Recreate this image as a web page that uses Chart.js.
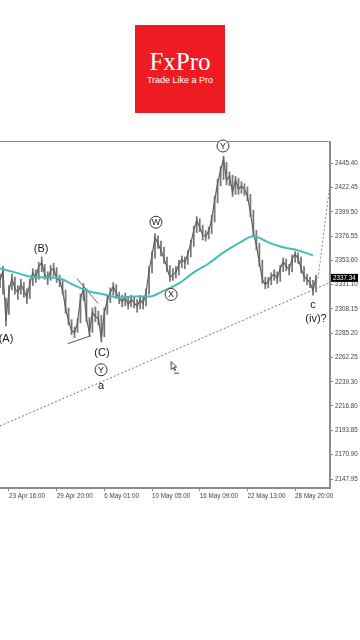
<!DOCTYPE html>
<html>
<head>
<meta charset="utf-8">
<script src="https://cdn.jsdelivr.net/npm/chart.js@4.4.1/dist/chart.umd.min.js"></script>
<style>
  html, body { margin: 0; padding: 0; background: #fff; }
  body { width: 360px; height: 640px; position: relative; overflow: hidden; }
  .logo { position: absolute; left: 135px; top: 25px; width: 90px; height: 88px; background: #ee1b22; color: #fff; text-align: center; }
  .logo .name { position: absolute; left: 0; right: 0; top: 24px; line-height: 26px; font-family: "Liberation Serif", "DejaVu Serif", serif; font-size: 25px; }
  .logo .tag { position: absolute; left: 0; right: 0; top: 50px; line-height: 11px; font-family: "Liberation Sans", Arial, sans-serif; font-size: 9px; }
  #wrap { position: absolute; left: 0; top: 131px; width: 360px; height: 377px; }
</style>
</head>
<body>
<div class="logo"><div class="name">FxPro</div><div class="tag">Trade Like a Pro</div></div>
<div id="wrap"><canvas id="chart" width="360" height="377"></canvas></div>
<script>
// axes
const xTickLabels = ['23 Apr 16:00', '29 Apr 20:00', '6 May 01:00', '10 May 05:00', '16 May 09:00', '22 May 13:00', '28 May 20:00'];
const xTickPos = [3, 19, 35, 51, 67, 83, 99]; // en points de prix (un point = 6 bougies)
const yTicks = [2445.40, 2422.45, 2399.50, 2376.55, 2353.60, 2331.10, 2308.15, 2285.20, 2262.25, 2239.30, 2216.80, 2193.85, 2170.90, 2147.95];

// clôtures
const price = [
  2334.9, 2344.3, 2297.1, 2325.4, 2336.8, 2327.3, 2323.6, 2331.1, 2325.4, 2318.8,
  2332.1, 2342.5, 2336.8, 2348.1, 2351.9, 2340.6, 2335.8, 2344.3, 2346.2, 2336.8,
  2334.9, 2325.4, 2308.4, 2297.1, 2287.7, 2285.8, 2295.2, 2317.9, 2327.3, 2299.0,
  2285.8, 2304.7, 2300.9, 2299.0, 2280.1, 2304.7, 2316.0, 2323.6, 2329.2, 2322.6,
  2317.9, 2315.1, 2318.8, 2312.2, 2316.9, 2314.1, 2310.3, 2316.9, 2313.2, 2323.6,
  2344.3, 2358.5, 2375.5, 2369.8, 2363.2, 2355.7, 2347.2, 2337.7, 2340.6, 2342.5,
  2350.0, 2354.7, 2351.9, 2359.5, 2369.8, 2382.1, 2391.6, 2385.0, 2377.4, 2376.5,
  2381.2, 2392.5, 2410.5, 2426.5, 2438.8, 2449.2, 2429.3, 2433.1, 2418.0, 2429.3,
  2420.8, 2423.7, 2420.8, 2414.2, 2399.1, 2380.2, 2368.0, 2351.9, 2335.8, 2331.1,
  2333.9, 2338.7, 2340.6, 2336.8, 2346.2, 2352.8, 2348.1, 2345.3, 2355.7, 2359.5,
  2355.7, 2346.2, 2338.7, 2335.8, 2333.0, 2325.4, 2337.34
];
// plus bas / plus hauts de chaque groupe de bougies
const barLow = [
  2328, 2322, 2292, 2303, 2326, 2322, 2317, 2322, 2319, 2313,
  2318, 2330, 2333, 2336, 2343, 2336, 2331, 2335, 2339, 2333,
  2329, 2322, 2304, 2293, 2284, 2281, 2286, 2295, 2316, 2296,
  2282, 2286, 2296, 2293, 2277, 2282, 2303, 2314, 2321, 2318,
  2313, 2310, 2311, 2308, 2310, 2309, 2305, 2308, 2308, 2311,
  2322, 2342, 2356, 2365, 2358, 2351, 2343, 2334, 2335, 2337,
  2340, 2347, 2346, 2350, 2357, 2367, 2380, 2381, 2373, 2372,
  2374, 2379, 2390, 2408, 2424, 2430, 2425, 2424, 2414, 2416,
  2416, 2417, 2415, 2410, 2395, 2376, 2364, 2348, 2332, 2327,
  2328, 2331, 2335, 2332, 2334, 2343, 2344, 2340, 2343, 2352,
  2351, 2342, 2334, 2331, 2328, 2321, 2324
];
const barHigh = [
  2341, 2348, 2318, 2330, 2341, 2338, 2330, 2336, 2333, 2327,
  2336, 2346, 2345, 2352, 2357, 2350, 2343, 2349, 2351, 2347,
  2340, 2336, 2326, 2309, 2298, 2291, 2299, 2322, 2332, 2327,
  2300, 2309, 2310, 2306, 2302, 2309, 2320, 2328, 2333, 2331,
  2324, 2321, 2323, 2320, 2321, 2320, 2317, 2321, 2319, 2327,
  2348, 2362, 2379, 2377, 2372, 2366, 2357, 2349, 2346, 2348,
  2354, 2358, 2357, 2363, 2373, 2386, 2395, 2393, 2387, 2382,
  2385, 2396, 2414, 2430, 2442, 2452, 2446, 2437, 2434, 2433,
  2431, 2428, 2426, 2423, 2416, 2401, 2382, 2370, 2354, 2338,
  2338, 2342, 2345, 2343, 2349, 2356, 2355, 2350, 2359, 2362,
  2361, 2357, 2348, 2341, 2338, 2335, 2340
];
const lastPrice = 2337.34;

// moyenne mobile, un point tous les 5
const maStep = 5;
const ma = [2346.2, 2342.5, 2338.7, 2337.7, 2336.8, 2330.2, 2324.5, 2321.7, 2318.8, 2319.8, 2319.8,
  2325.4, 2332.1, 2342.5, 2350.9, 2361.3, 2369.8, 2376.5, 2370.8, 2366.1, 2363.2, 2358.5];

// lignes de tendance [index, prix]
const channelLow = [[0, 2197.9], [110.7, 2333.0]];
const channelUp = [[106.7, 2336.8], [110.7, 2426.5]];
const lineBottom = [[22.8, 2275.4], [30.5, 2282.9]];
const lineCross = [[25.8, 2336.8], [32.9, 2313.2]];

// annotations d'Elliott : [texte, index, prix, cerclé]
const waveLabels = [
  ['(A)', 2.0, 2280.1, false],
  ['(B)', 13.8, 2364.2, false],
  ['(C)', 34.2, 2266.9, false],
  ['Y', 33.9, 2250.8, true],
  ['a', 33.9, 2235.7, false],
  ['W', 52.3, 2389.7, true],
  ['X', 57.4, 2321.7, true],
  ['Y', 74.8, 2461.5, true],
  ['c', 105.0, 2312.2, false],
  ['(iv)?', 106.0, 2299.0, false]
];
const cursorAt = [57.4, 2258.5];

const pts = arr => arr.map(p => ({ x: p[0], y: p[1] }));
const axisFont = { family: '"Liberation Sans", Arial, sans-serif', size: 6.3 };

const marks = {
  id: 'marks',
  afterDatasetsDraw(chart) {
    const { ctx, chartArea: a, scales: { x, y } } = chart;
    ctx.save();
    // cadre
    ctx.strokeStyle = '#8c8c8c';
    ctx.lineWidth = 1;
    ctx.beginPath();
    ctx.moveTo(a.left, a.top + 0.5);
    ctx.lineTo(a.right - 0.5, a.top + 0.5);
    ctx.lineTo(a.right - 0.5, a.bottom - 0.5);
    ctx.lineTo(a.left, a.bottom - 0.5);
    ctx.stroke();

    // étiquettes
    ctx.textAlign = 'center';
    ctx.textBaseline = 'middle';
    waveLabels.forEach(([t, i, p, circled]) => {
      const px = x.getPixelForValue(i), py = y.getPixelForValue(p);
      ctx.fillStyle = '#1a1a1a';
      if (circled) {
        ctx.beginPath();
        ctx.arc(px, py, 6, 0, Math.PI * 2);
        ctx.fillStyle = '#fff';
        ctx.fill();
        ctx.strokeStyle = '#333';
        ctx.lineWidth = 1;
        ctx.stroke();
        ctx.fillStyle = '#1a1a1a';
        ctx.font = '9px "Liberation Sans", Arial, sans-serif';
        ctx.fillText(t, px, py + 0.5);
      } else {
        ctx.font = '11px "Liberation Sans", Arial, sans-serif';
        ctx.fillText(t, px, py);
      }
    });

    // curseur de souris
    const cx = x.getPixelForValue(cursorAt[0]), cy = y.getPixelForValue(cursorAt[1]);
    ctx.beginPath();
    ctx.moveTo(cx, cy);
    ctx.lineTo(cx, cy + 8);
    ctx.lineTo(cx + 2, cy + 6);
    ctx.lineTo(cx + 3.5, cy + 9);
    ctx.lineTo(cx + 4.5, cy + 8.5);
    ctx.lineTo(cx + 3, cy + 5.5);
    ctx.lineTo(cx + 5.5, cy + 5.5);
    ctx.closePath();
    ctx.fillStyle = '#fff';
    ctx.fill();
    ctx.strokeStyle = '#444';
    ctx.stroke();
    ctx.beginPath();
    ctx.moveTo(cx + 3, cy + 11.5);
    ctx.lineTo(cx + 8, cy + 11.5);
    ctx.stroke();

    // dernier prix
    const ly = y.getPixelForValue(lastPrice);
    ctx.fillStyle = '#000';
    ctx.fillRect(a.right + 1, ly - 4, 27, 8);
    ctx.fillStyle = '#fff';
    ctx.font = '6.3px "Liberation Sans", Arial, sans-serif';
    ctx.textAlign = 'left';
    ctx.fillText(lastPrice.toFixed(2), a.right + 3, ly + 0.5);
    ctx.restore();
  }
};

new Chart(document.getElementById('chart'), {
  type: 'line',
  data: {
    datasets: [
      {
        data: ma.map((v, k) => ({ x: k * maStep, y: v })),
        borderColor: '#45bdb4', borderWidth: 2, pointRadius: 0,
        cubicInterpolationMode: 'monotone'
      },
      {
        data: price.map((v, i) => ({ x: i, y: v })),
        borderColor: '#606060', borderWidth: 1.2, pointRadius: 0, tension: 0
      },
      {
        type: 'bar',
        data: price.map((v, i) => ({ x: i, y: [barLow[i], barHigh[i]] })),
        backgroundColor: '#777', barThickness: 1.1, grouped: false
      },
      { data: pts(channelLow), borderColor: '#777', borderWidth: 1, borderDash: [2, 2], pointRadius: 0 },
      { data: pts(channelUp), borderColor: '#888', borderWidth: 1, borderDash: [2, 2], pointRadius: 0 },
      { data: pts(lineBottom), borderColor: '#555', borderWidth: 1, pointRadius: 0 },
      { data: pts(lineCross), borderColor: '#666', borderWidth: 1, pointRadius: 0 }
    ]
  },
  options: {
    responsive: false,
    animation: false,
    layout: { padding: { top: 10, left: 0, right: 0, bottom: 0 } },
    plugins: { legend: { display: false }, tooltip: { enabled: false } },
    scales: {
      x: {
        type: 'linear', min: 0, max: 110.7, offset: false,
        afterBuildTicks: s => { s.ticks = xTickPos.map(v => ({ value: v })); },
        afterFit: s => { s.height = 20; s.paddingLeft = 0; s.paddingRight = 0; },
        ticks: { autoSkip: false, maxRotation: 0, align: 'start', padding: 1, color: '#444', font: axisFont,
          callback: (v, i) => xTickLabels[i] },
        grid: { drawOnChartArea: false, offset: false, tickLength: 3, color: '#888' },
        border: { color: '#8c8c8c' }
      },
      y: {
        position: 'right', min: 2139.5, max: 2466.2,
        afterBuildTicks: s => { s.ticks = yTicks.map(v => ({ value: v })); },
        afterFit: s => { s.width = 30; s.paddingTop = 0; s.paddingBottom = 0; },
        ticks: { autoSkip: false, padding: 2, color: '#444', font: axisFont, callback: v => Number(v).toFixed(2) },
        grid: { drawOnChartArea: false, tickLength: 3, color: '#888' },
        border: { color: '#8c8c8c' }
      }
    }
  },
  plugins: [marks]
});
</script>
</body>
</html>
